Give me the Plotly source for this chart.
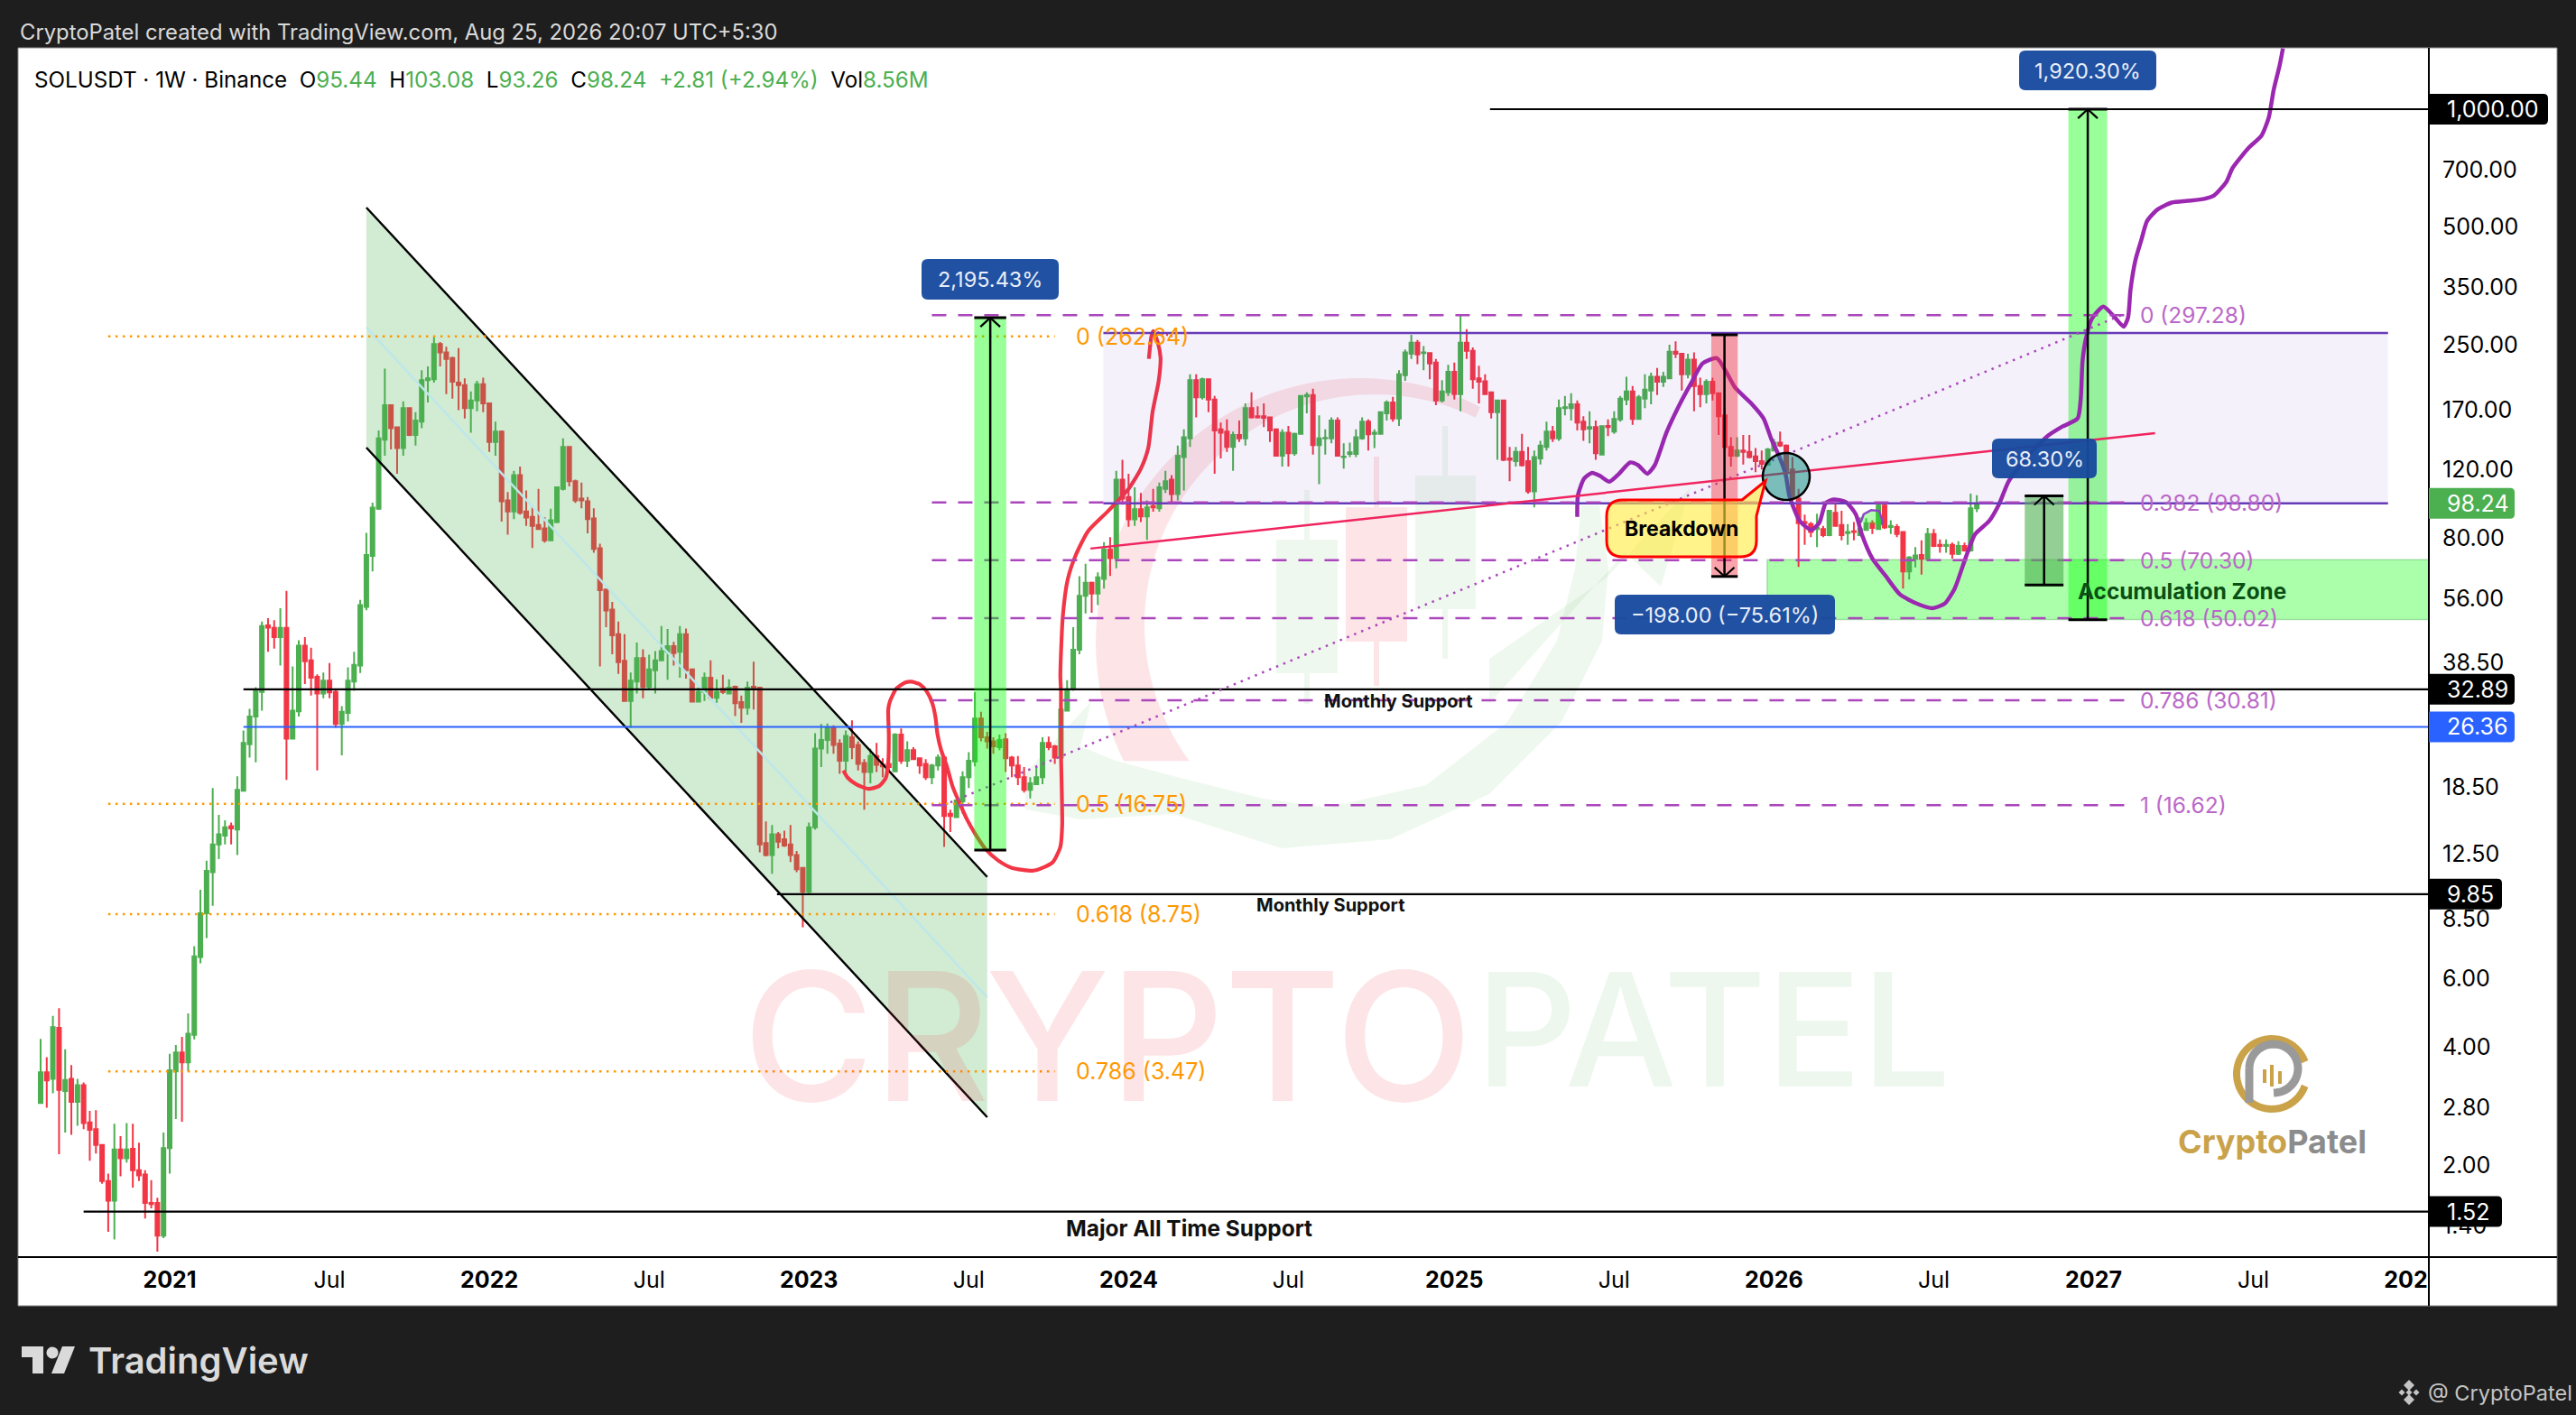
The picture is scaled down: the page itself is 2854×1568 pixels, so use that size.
import math
from datetime import datetime, timedelta
import numpy as np
import plotly.graph_objects as go

FONT = "Inter"
START = datetime(2020, 8, 10)

opens = [2.88,3.45,3.32,4.48,3.09,3.32,2.90,3.20,2.57,2.47,
 2.25,1.82,1.62,2.19,2.08,2.20,1.94,1.89,1.60,1.60,
 1.32,2.21,3.47,3.88,3.66,4.30,6.8,8.8,11.2,13.2,
 13.9,14.7,14.4,18.1,23.8,28.0,32.4,47.9,47.2,44.7,
 47.2,24.6,28.9,42.5,39,35.4,32.1,34.6,32.4,26.8,
 28.6,34.4,37.8,53.4,72.1,95.2,143,175,153.7,136,
 172,147,159,203,204,251,239,231,200,197,
 172,180,198,177,141,150,100,93.7,116,93.7,
 90.8,86.5,84.8,79,88,107,137,112,101,99.5,
 89.9,75.5,59.2,52.6,45.5,38.9,30.7,34.4,39.5,33.4,
 36.8,39,41,42.4,41,45.5,37,30.6,32.4,35.2,
 31.3,33,32.1,33.4,30.5,29.5,33.4,33.2,13.3,12.4,
 14,13.6,13.2,12.4,11.5,10,14.6,23.2,24.4,26.3,
 23.9,21.6,24.8,23.7,21.3,20.2,22.2,21.1,21.2,20.3,
 25.2,21.6,23,21.9,21.2,19.6,21,22,15.8,15.5,
 17,19.6,21.5,27.7,24.8,24.2,23.4,24.5,22,21,
 19.6,18.2,18.8,19.6,24,23.5,22,29,32.9,41.5,
 57,61.6,57.8,63,75,71.2,113,102,89.4,95,
 91,96.7,95.5,107,113,103.8,129,144,203,183.5,
 204,181,152,150,137,147,144,172,164,164,
 163,152,130,149,132,148,184.5,186,138.5,144,
 144,160,129,131.5,131.5,144,159,148,148,167,
 178,162,209,237,253,238,238,225,180,189,
 213,187,253,241,205,201.5,189,168,180,128,
 126,133,126,105.5,128,137,150,144,172,172,
 176,159,152.5,154,131,155,150,161,181,190,
 161.5,182,191,207,201,205,240,237,210,229,
 196,187,201,188,165,137,130,134,133,129.5,
 126,123.5,134,140.5,138,120,101,88,87,84.5,
 84.5,81.5,93,86.5,82.5,83.3,81.5,84,87.4,84.5,
 97,85.5,85.5,83,65.8,71,72.5,71,82,77,
 76.5,77,73,76.5,74.5,95.44]

highs = [4.20,3.77,4.81,5.03,3.95,3.60,3.32,3.25,2.75,2.76,
 2.25,1.90,2.55,2.37,2.56,2.55,2.28,1.94,1.83,1.65,
 2.42,3.85,4.05,4.25,4.88,7.25,10.1,12.0,18.4,15.7,
 15.2,15.0,19.7,25.8,29.3,33.3,49,50,49.4,53,
 58.7,37.6,43.9,44.7,42,35.9,36.3,38.4,33,29.8,
 37.4,41,55.7,82.6,98.7,151,217,176,153.7,179,
 172.5,168,215,220,261,254,247,233,245,205,
 190,202,206,177,159,151,105,119,122,106,
 96,107,90.5,95.2,108,144,137.6,113,111,102,
 95.5,77.5,59.4,55,49,45.5,36.3,43.3,41.6,40.3,
 41.2,47.7,46.9,43.5,47.7,47,36.8,33.2,36.3,39,
 34.9,35.8,34.9,33.6,31.7,34.4,38.7,33.2,15.1,14.8,
 14.2,14.3,14.8,12.7,11.5,15,25.4,26.8,26.9,26.6,
 24.5,25.8,27.4,24.2,21.8,23.2,24,21.9,21.8,25.4,
 26.1,24.2,23.4,22,21.8,21.2,22.4,22.2,16.2,17.1,
 20.3,22.7,32.4,28.8,25.6,24.8,25.2,25.4,22.2,22.2,
 20.8,19.6,20.8,24.8,24.9,23.7,30.5,34.7,47.4,64,
 68.8,62,65.5,78.2,80.5,119,127,117,108,104.5,
 100,107,111,119,116,138,152,210,210,206,
 205,185,158,161,150,160,177,189,174,177,
 163.7,152,152,155,149,185,189,193,165,152,
 163,163,140,140.5,152,163,161,152,169,180,
 184,215,243,265,257,248,239,230,203,222,
 225,297.28,274,246,221,210,190,181,181,137,
 137,148,137,134,142,159,155,181,185,188,
 180,164,169,160,155,161,169,185,207,196,
 186,210,212,218,213,250,255,238,237,239,
 206,204,206,189,172,145,145,147,147,136,
 134,136,143.5,150,139,129,107,92,88,92.5,
 86,94.5,98,94,87,88,90.5,90,89,98,
 99,89,87,83.5,72,76,79,85,84.5,79.5,
 79.5,78,78.6,78,104,103.08]

lows = [2.88,2.80,3.05,2.13,2.42,2.39,2.52,2.47,2.05,2.14,
 1.79,1.35,1.29,1.87,2.03,1.75,1.82,1.46,1.55,1.20,
 1.30,1.90,2.62,2.58,3.47,4.19,6.55,7.6,9.2,12.1,
 13.2,13.2,12.4,18.0,22,21.4,29,41,41.8,37.8,
 19.3,24.6,28,33.9,31.7,20.4,31.2,31.2,26.2,22.3,
 27.2,32.6,36.2,52.4,65.8,94.6,130,135,117,130,
 146,138,153,178,200,220,187,182,170,162,
 149,169,168,133,130,88.3,81.7,89.5,92,86,
 75.6,84,78,78.6,87.4,106,108.5,98.5,95.5,82.4,
 73.5,37.6,47.4,40.4,36,30.6,26.2,32.1,31.2,32.8,
 32.1,38.8,34.8,37.8,35.2,35,30.5,30.5,30.7,30.9,
 30.4,32,32,28.1,27,28.3,29.2,12.6,12.3,11.1,
 12.9,13,11.9,11.2,8.1,9.9,14.4,20.8,22.5,22.5,
 20,20.2,21.8,20.4,16.2,18.9,20.2,19.6,20.3,20.2,
 21.2,20.8,21.7,20,19.3,18.8,20.4,13,14.2,15.5,
 15.8,18.4,20.9,24.2,23.2,22.5,23,20.2,19.6,18.7,
 17.9,17.3,18.7,18.8,23,21.2,22,28.9,32.6,40.4,
 51.4,51.6,54,59.5,64.1,67,97.5,85.6,86,88,
 79.3,93.5,93.5,104.5,99,100,106,137,163,181,
 168,117,128,133,119,141,138,162,162,154,
 141,130,122,122,130,148,167,131,110,131,
 140,130,120.5,129,129,143,134,136,148,160,
 159,155,202,230,223,215,204,175,178,185,
 181,169,230,193,177,186,162,127,126,112,
 122,122,104,96,123.5,134,141,142,165,160,
 151,142,140,127,131,146,148,159,175,156,
 161,172,176,186,195,205,231,191,205,169,
 173,177,180,147,134,122,129,123.5,128,118,
 120,123,134,137,119,97,67.6,77,80.5,76,
 80.5,81,86,79,77,79,81,84,82,84,
 84.5,82,80.5,59.5,62.7,67.4,64.6,71,76,73.5,
 73.5,71,72.5,74,74,93.26]

closes = [3.45,3.29,4.50,3.11,3.30,2.90,3.20,2.56,2.46,2.25,
 1.82,1.62,2.19,2.08,2.19,1.94,1.88,1.60,1.59,1.32,
 2.21,3.49,3.88,3.66,4.33,6.83,8.8,11.3,13.2,14.0,
 14.6,14.5,18.2,24.0,28.0,32.6,47.7,47.3,44.7,47.2,
 24.6,29,42.5,38.8,35.2,32.1,34.6,32.3,26.8,28.8,
 34.6,38,54,72.5,95.8,144,175,153,136,172,
 147,160,203,205,251,239,230,201,197,172,
 180,198,177,141,150,99.5,93.7,116,93,90.4,
 86,84.5,79,89,108,137,112,100,100,89.6,
 75.2,58.9,52.3,45.2,38.6,30.7,34.6,39.5,33.4,37,
 39,41.2,42.4,40.7,45.5,36.8,30.6,32.4,35.2,31.3,
 32.4,32.4,33.2,30.3,29.5,33.2,33.2,13.2,12.4,14,
 13.4,13.1,12.4,11.4,10,14.6,23.2,24.4,26.3,23.7,
 21.6,25,23.4,21.2,20.2,22.2,21.1,20.9,20.8,25.2,
 21.6,23,21.8,21,19.6,21,22,15.6,15.6,17.1,
 19.6,21.6,27.7,24.8,24.2,23.5,24.4,21.9,21,19.6,
 18.2,18.9,19.6,24,23.4,22,29.2,32.9,41.5,57,
 61.6,57.8,63.6,75,71.2,113,101,89.4,95,91,
 96,96,108,112,103.8,130,145,203,183.5,204,
 181,151,149,137,147,144,172,163,163,162.6,
 151,130,149,132,148,185,186,138.5,144,144.5,
 160,130,129.4,132.6,145,159,147.5,149,168,178,
 162,210,239,253,236,239,224,180,190,213,
 187,253,241,204,201,187,168,180,127,127,
 133,123,105.5,129,138,150,144,172,173,176,
 158,152,154,132,154.7,154,161.5,182,190,161.5,
 183.5,192,207,201,207,240,237,210,229,196,
 187,201,188,164,137,130,134,133,129,126,
 124,135,140.5,138,119,101,87.4,87.4,83,85,
 81.5,94,86,81.5,83,83,84.5,87.4,85,97,
 85.3,86,82,65.8,71.5,72.3,71,82,76.5,76.5,
 77,73,76.5,74.5,95.43,98.24]
assert len(opens) == len(highs) == len(lows) == len(closes)

# hand-drawn curves: (weekly bar number, price)
red_curve_bars = [130.6,131.3,132.7,134.7,136.4,137.5,137.9,138,137.9,138.2,139.2,140.6,141.7,143.1,144.2,145.1,145.6,145.9,146.5,147.4,148.4,149.6,150.7,152.1,153.8,155.8,158,161.4,163,164.7,165.9,166.2,166,166,165.9,166.3,167.1,168.4,170.4,173.7,177,179,180.2,180.9,181.9,182.2,181.7,181,180.7,180.3]
red_curve_prices = [20.4,19.55,18.8,18.3,18.6,19.5,21.4,25,29.2,30.7,33,34.2,34.4,33.8,32.4,30.2,27.8,25.3,23,21,18.5,16.7,15.3,14,12.8,12,11.5,11.3,11.5,11.9,13,14.8,23,32.6,35.7,50.5,62.8,72.4,83.4,94,107,120.5,136,168,202,232,255,271,262,230]
purple_curve_bars = [250,250.1,251.1,252.4,253.7,255.2,256.7,258.6,259.9,261.4,262.6,264.5,266.5,268.5,270.4,272.7,274.3,275.7,278.3,280.3,281.6,282.9,283.9,284.5,286.2,288.1,289.4,290.4,291.7,293.7,295.3,296.3,298,300.2,302.5,305.2,307.8,309.8,311.4,313,314.7,317,318.6,320.2,323.5,326.5,328.8,331.4,331.9,332.2,332.7,333.7,335.6,337.5,338.9,339.6,340,340.8,341.8,342.7,344.4,346.7,349.3,352,353.6,355.6,356.6,359.3,361.3,362.5,363.3,364.3,364.8]
purple_curve_prices = [90.7,102.8,113.6,117.6,115.5,111.6,116.6,125,123,117,123,149,174,199,224,231,212,194,177,162,143,129,116.6,102.8,88.5,84,87.8,98.3,100.5,99,92.2,81.8,71,64,57.5,54.5,53,54.5,59.5,70,81.8,88.5,97.6,112,131,146,154,162,181,227,257,291,313,293,278,293,345,411,465,518,554,577,583,590,602,652,707,799,855,953,1121,1301,1430]
loop_bars = [296.1,296.6,297.8,299.1,299.6,299.6]
loop_prices = [87.8,92.2,94.4,94,89,86.5]

fib_orange_levels = [262.64,16.75,8.75,3.47]
fib_orange_labels = ["0 (262.64)","0.5 (16.75)","0.618 (8.75)","0.786 (3.47)"]
fib_purple_levels = [297.28,98.80,70.30,50.02,30.81,16.62]
fib_purple_labels = ["0 (297.28)","0.382 (98.80)","0.5 (70.30)","0.618 (50.02)","0.786 (30.81)","1 (16.62)"]

ytick_vals = [1000,700,500,350,250,170,120,80,56,38.5,18.5,12.5,8.5,6,4,2.8,2,1.4]
ytick_text = ["1,000.00","700.00","500.00","350.00","250.00","170.00","120.00","80.00","56.00","38.50","18.50","12.50","8.50","6.00","4.00","2.80","2.00","1.40"]
xtick_bars = [21,47,73,99,125,151,177,203,230,256,282,308,334,360,384.8]
xtick_text = ["<b>2021</b>","Jul","<b>2022</b>","Jul","<b>2023</b>","Jul","<b>2024</b>","Jul","<b>2025</b>","Jul","<b>2026</b>","Jul","<b>2027</b>","Jul","<b>202</b>"]

price_tags = [(1000,"1,000.00","#000000",2823),(98.24,"98.24","#4CAF50",2786),(32.89,"32.89","#000000",2786),
              (26.36,"26.36","#2962FF",2786),(9.85,"9.85","#000000",2772),(1.52,"1.52","#000000",2772)]

# ---------------- geometry helpers
W, H = 2854, 1568
L, R, T, B = 20, 2690, 53, 1393
def fx(px): return (px - L) / (R - L)
def fy(py): return 1 - (py - T) / (B - T)
def bar(i): return (START + timedelta(days=7 * i)).isoformat()
def pts_path(pts, close=True):
    s = "M" + " L".join(f"{fx(x):.5f},{fy(y):.5f}" for x, y in pts)
    return s + (" Z" if close else "")
def rr_path(x0, y0, x1, y1, r):
    q = lambda a, b: f"{fx(a):.5f},{fy(b):.5f}"
    return (f"M{q(x0+r,y0)} L{q(x1-r,y0)} Q{q(x1,y0)} {q(x1,y0+r)} L{q(x1,y1-r)} Q{q(x1,y1)} {q(x1-r,y1)} "
            f"L{q(x0+r,y1)} Q{q(x0,y1)} {q(x0,y1-r)} L{q(x0,y0+r)} Q{q(x0,y0)} {q(x0+r,y0)} Z")
def arc(cx, cy, r, a0, a1, n=40):
    return [(cx + r*math.cos(math.radians(a)), cy + r*math.sin(math.radians(a))) for a in np.linspace(a0, a1, n)]

shapes, annos = [], []
def paper_shape(path, fill=None, line=None, lw=0, layer="above"):
    shapes.append(dict(type="path", xref="paper", yref="paper", path=path, fillcolor=fill or "rgba(0,0,0,0)",
                       line=dict(color=line or "rgba(0,0,0,0)", width=lw), layer=layer))
def dline(i0, p0, i1, p1, color, width=2, dash="solid", layer="above"):
    shapes.append(dict(type="line", xref="x", yref="y", x0=bar(i0), x1=bar(i1), y0=p0, y1=p1, layer=layer,
                       line=dict(color=color, width=width, dash=dash)))
def drect(i0, p0, i1, p1, fill, line=None, lw=0, layer="above"):
    shapes.append(dict(type="rect", xref="x", yref="y", x0=bar(i0), x1=bar(i1), y0=p0, y1=p1, layer=layer,
                       fillcolor=fill, line=dict(color=line or "rgba(0,0,0,0)", width=lw)))
def ptext(px, py, text, size, color, anchor="center", weight=None, **kw):
    f = dict(family=FONT, size=size, color=color)
    if weight: f["weight"] = weight
    annos.append(dict(xref="paper", yref="paper", x=fx(px), y=fy(py), text=text, showarrow=False, xanchor=anchor,
                      yanchor="middle", font=f, **kw))
def dtext(i, price, text, size, color, anchor="left"):
    annos.append(dict(xref="x", yref="y", x=bar(i), y=math.log10(price), text=text, showarrow=False, xanchor=anchor,
                      yanchor="middle", font=dict(family=FONT, size=size, color=color)))

# ---------------- panel and background watermark
paper_shape(pts_path([(20,53),(2833,53),(2833,1447),(20,1447)]), fill="#FFFFFF", line="#8A8A8A", lw=1, layer="below")
pink = "rgba(242,54,69,0.13)"; pale = "rgba(76,175,80,0.09)"
crescent = arc(1507,712,293,-63,-206.6,60) + arc(1523,692,255,-216.4,-64,60)
paper_shape(pts_path(crescent), fill=pink, layer="below")
paper_shape(pts_path([(1136,857),(1209,777),(1197,827),(1236,843),(1300,860),(1400,885),(1470,895),(1580,870),(1670,800),(1725,710),(1745,630),(1752,560),(1772,560),(1782,630),(1775,710),(1730,800),(1650,880),(1540,930),(1420,940),(1300,902),(1197,908),(1136,897)]), fill=pale, layer="below")
paper_shape(pts_path([(1650,730),(1780,640),(1873,540),(1840,650),(1800,612),(1650,780)]), fill=pale, layer="below")
for x0,x1,y0,y1,wx,w0,w1,col in [(1414,1482,598,746,1448,543,780,pale),(1491,1559,562,711,1525,506,760,pink),(1568,1635,527,675,1601,472,730,pale)]:
    paper_shape(pts_path([(x0,y0),(x1,y0),(x1,y1),(x0,y1)]), fill=col, layer="below")
    paper_shape(pts_path([(wx-3,w0),(wx+3,w0),(wx+3,y0),(wx-3,y0)]), fill=col, layer="below")
    paper_shape(pts_path([(wx-3,y1),(wx+3,y1),(wx+3,w1),(wx-3,w1)]), fill=col, layer="below")
ptext(1227,1148,"CRYPTO",198,"rgba(242,54,69,0.13)",weight=500)
ptext(1898,1140,"PATEL",175,"rgba(76,175,80,0.10)",weight=500)

# ---------------- zones
drect(172.9,268,381.9,98.24,"rgba(103,58,183,0.07)")
dline(172.9,268,381.9,268,"#673AB7",2.5)
dline(172.9,98.24,381.9,98.24,"#673AB7",2.5)
drect(280.9,70.5,392,49.6,"rgba(0,255,0,0.33)","rgba(76,175,80,0.4)",1.5,layer="below")

# ---------------- horizontal levels
for lv,tx in zip(fib_orange_levels,fib_orange_labels):
    dline(11,lv,165,lv,"#FF9800",2.5,"2.5px,5.5px")
    dtext(168.2,lv,tx,25,"#FF9800")
for lv,tx in zip(fib_purple_levels,fib_purple_labels):
    dline(145,lv,339,lv,"#AB47BC",2.5,"16px,13px")
    dtext(341.3,lv,tx,24.5,"#BA68C8")
dline(235.8,1000,392,1000,"#000000",2.2)
dline(33,32.89,392,32.89,"#000000",2.2)
dline(33,26.36,392,26.36,"#2962FF",2.2)
dline(119.8,9.85,392,9.85,"#000000",2.2)
dline(7,1.52,392,1.52,"#000000",2.2)
dline(170.8,75.3,344,148.5,"#F0245E",2.5)
dline(148,16.9,338.5,297.28,"#AB47BC",2.5,"2.5px,6px")

# ---------------- position tools
GRN = "rgba(0,255,0,0.4)"
def head(ic, p, up):
    k = 1.055 if not up else 1/1.055
    dline(ic-1.6,p*k,ic,p,"#000000",2.2); dline(ic,p,ic+1.6,p*k,"#000000",2.2)
def tool(i0,i1,ptop,pbot,fill,up=True,layer="above"):
    ic=(i0+i1)/2
    drect(i0,ptop,i1,pbot,fill,layer=layer)
    dline(ic,ptop,ic,pbot,"#000000",2.5)
    dline(i0,ptop,i1,ptop,"#000000",3)
    dline(i0,pbot,i1,pbot,"#000000",3)
    head(ic,ptop if up else pbot,up)
tool(151.9,157.1,293,12.77,GRN)
tool(271.8,276.1,265,63.9,"rgba(242,54,69,0.45)",up=False)
tool(322.8,329.1,102.7,60.8,"rgba(76,175,80,0.6)")
tool(329.9,336.2,1000,49.5,GRN,layer="below")

# circle and callout
paper_shape(pts_path(arc(1979,528,26,0,360,60)), fill="rgba(0,137,123,0.5)", line="#000000", lw=2.5)
r=18
callout=(f"M{fx(1780+r):.5f},{fy(554):.5f} L{fx(1930):.5f},{fy(554):.5f} L{fx(1956):.5f},{fy(533):.5f} L{fx(1946):.5f},{fy(572):.5f} "
         f"L{fx(1946):.5f},{fy(617-r):.5f} Q{fx(1946):.5f},{fy(617):.5f} {fx(1946-r):.5f},{fy(617):.5f} L{fx(1780+r):.5f},{fy(617):.5f} "
         f"Q{fx(1780):.5f},{fy(617):.5f} {fx(1780):.5f},{fy(617-r):.5f} L{fx(1780):.5f},{fy(554+r):.5f} Q{fx(1780):.5f},{fy(554):.5f} {fx(1780+r):.5f},{fy(554):.5f} Z")
paper_shape(callout, fill="rgba(255,235,59,0.6)", line="#FF0000", lw=3)
ptext(1863,586,"<b>Breakdown</b>",23,"#000000")

# blue labels
BLUE="rgba(24,74,158,0.96)"
for x0,y0,x1,y1,tx in [(1021,287,1173,332,"2,195.43%"),(1789,659,2033,703,"−198.00 (−75.61%)"),(2207,486,2323,530,"68.30%"),(2237,56,2389,100,"1,920.30%")]:
    paper_shape(rr_path(x0,y0,x1,y1,7), fill=BLUE)
    ptext((x0+x1)/2,(y0+y1)/2,tx,23.5,"#E8EEF8")

ptext(2417,655,"<b>Accumulation Zone</b>",24.3,"#0A4F14")
ptext(1549,777,"<b>Monthly Support</b>",20,"#111111")
ptext(1474,1003,"<b>Monthly Support</b>",20,"#111111")
ptext(1317,1361,"<b>Major All Time Support</b>",24.4,"#111111")

# CryptoPatel logo
GOLD="#C9A24A"; GRAY="#9A9A9A"
paper_shape(pts_path(arc(2517,1190,39,-20,-340,50),False), line=GOLD, lw=8)
paper_shape(pts_path(arc(2519,1184,27,90,-180,40),False), line=GRAY, lw=9)
paper_shape(pts_path([(2492,1184),(2492,1222)],False), line=GRAY, lw=9)
for x,y0,y1 in [(2509,1185,1200),(2517,1180,1204),(2526,1187,1201)]:
    paper_shape(pts_path([(x,y0),(x,y1)],False), line=GOLD, lw=4)
ptext(2517,1265,"<b><span style='color:#C9A24A'>Crypto</span><span style='color:#8C8C8C'>Patel</span></b>",36,"#C9A24A")

# ---------------- axis frame and price tags
paper_shape(pts_path([(20,1393),(2833,1393)],False), line="#000000", lw=2)
paper_shape(pts_path([(2691,53),(2691,1447)],False), line="#000000", lw=2)
for v,tx,col,xr in price_tags:
    yc = T + (math.log10(1435) - math.log10(v)) / (math.log10(1435) - math.log10(1.163)) * (B - T)
    q = lambda a,b: f"{fx(a):.5f},{fy(b):.5f}"
    y0,y1=yc-17,yc+17
    paper_shape(f"M{q(2691,y0)} L{q(xr-5,y0)} Q{q(xr,y0)} {q(xr,y0+5)} L{q(xr,y1-5)} Q{q(xr,y1)} {q(xr-5,y1)} L{q(2691,y1)} Z", fill=col)
    annos.append(dict(xref="paper", yref="y", x=fx(2709), y=math.log10(v), text=tx, showarrow=False, xanchor="left",
                      yanchor="middle", font=dict(family=FONT, size=25, color="#FFFFFF")))

# ---------------- header / footer
ptext(20,35,"CryptoPatel created with TradingView.com, Aug 25, 2026 20:07 UTC+5:30",23.8,"#D9D9D9",anchor="left")
g=lambda s:f"<span style='color:#4CAF50'>{s}</span>"
ptext(36,89,"SOLUSDT · 1W · Binance  O"+g("95.44")+"  H"+g("103.08")+"  L"+g("93.26")+"  C"+g("98.24")+"  "+g("+2.81 (+2.94%)")+"  Vol"+g("8.56M"),24.2,"#000000",anchor="left")
LG="#DADADA"
paper_shape(pts_path([(24,1492),(48,1492),(48,1522),(36,1522),(36,1504),(24,1504)]), fill=LG)
paper_shape(pts_path(arc(58,1499,6.5,0,360,24)), fill=LG)
paper_shape(pts_path([(69,1492),(83,1492),(71,1522),(57,1522)]), fill=LG)
ptext(96,1507,"TradingView",40,LG,anchor="left",weight=600)
DG="#C4C4C4"
for cx,cy,s in [(2669,1535,6),(2669,1551,6),(2661,1543,3.5),(2677,1543,3.5),(2669,1543,3.5)]:
    paper_shape(pts_path([(cx-s,cy),(cx,cy-s),(cx+s,cy),(cx,cy+s)]), fill=DG)
ptext(2688,1544,"@ CryptoPatel",23.5,DG,anchor="left")

# ---------------- traces
x_dates = [bar(i) for i in range(len(closes))]
fig = go.Figure()
fig.add_trace(go.Candlestick(x=x_dates, open=opens, high=highs, low=lows, close=closes, showlegend=False, hoverinfo="skip",
    whiskerwidth=0,
    increasing=dict(line=dict(color="#4CAF50", width=2), fillcolor="#4CAF50"),
    decreasing=dict(line=dict(color="#F23645", width=2), fillcolor="#F23645")))

def line(xs, ys, color, width, **kw):
    fig.add_trace(go.Scatter(x=[bar(i) for i in xs], y=ys, mode="lines", line=dict(color=color, width=width, **kw.pop("ld",{})),
                             showlegend=False, hoverinfo="skip", **kw))
channel_bars=[53,154]
channel_top=[560.6,10.9]
channel_mid=[276.6,5.37]
channel_bot=[136.4,2.65]
line(channel_bars+channel_bars[::-1]+channel_bars[:1], channel_top+channel_bot[::-1]+channel_top[:1], "rgba(0,0,0,0)", 0, fill="toself", fillcolor="rgba(76,175,80,0.25)")
line(channel_bars, channel_mid, "#BDE7EA", 2.5)
line(channel_bars, channel_top, "#000000", 2.4)
line(channel_bars, channel_bot, "#000000", 2.4)
line(red_curve_bars, red_curve_prices, "#F23645", 4.2, ld=dict(shape="spline", smoothing=0.6))
line([181,184.5],[271,262],"#F23645",2.5,ld=dict(dash="2px,3px"))
line(loop_bars, loop_prices, "#8E44C8", 2.5, fill="toself", fillcolor="rgba(0,255,0,0.3)")
line(purple_curve_bars, purple_curve_prices, "#9C27B0", 4.5, ld=dict(shape="spline", smoothing=0.6))

fig.update_layout(
    width=W, height=H, autosize=False, margin=dict(l=L, r=W-R, t=T, b=H-B, pad=0),
    paper_bgcolor="#1E1E1E", plot_bgcolor="#FFFFFF", showlegend=False, hovermode=False,
    boxgap=0.41, boxgroupgap=0, dragmode=False, font=dict(family=FONT),
    shapes=shapes, annotations=annos,
    xaxis=dict(type="date", range=[bar(-3.67), bar(388.4)], rangeslider=dict(visible=False), showgrid=False, zeroline=False,
               tickmode="array", tickvals=[bar(i) for i in xtick_bars], ticktext=xtick_text, ticks="", ticklabelstandoff=8,
               tickfont=dict(family=FONT, size=25, color="#000000"), showline=False),
    yaxis=dict(type="log", side="right", range=[math.log10(1.163), math.log10(1435)], showgrid=False, zeroline=False,
               tickmode="array", tickvals=ytick_vals, ticktext=ytick_text, ticks="", ticklabelstandoff=15,
               tickfont=dict(family=FONT, size=25, color="#000000"), showline=False),
)
fig.write_html("out.html", post_script="document.body.style.margin='0';document.body.style.overflow='hidden';",
               config=dict(displayModeBar=False, staticPlot=True))
